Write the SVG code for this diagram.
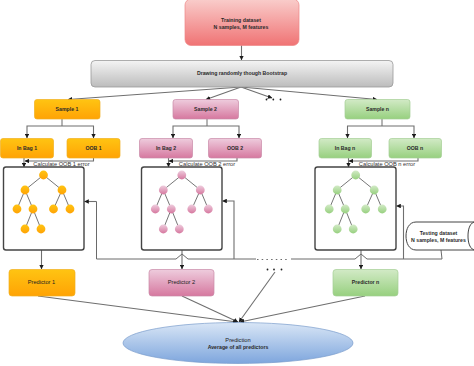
<svg xmlns="http://www.w3.org/2000/svg" xmlns:xlink="http://www.w3.org/1999/xlink" width="474" height="366" viewBox="0 0 474 366">
  <style>
    text { font-family: "Liberation Sans", Arial, sans-serif; font-size: 5.200px; font-weight: bold; fill: #2a2a2a; text-anchor: middle; }
    .note { font-weight: normal; font-size: 5.700px; fill: #333; }
    .plain { font-weight: normal; font-size: 5.700px; fill: #222; }
    .wire { fill: none; stroke: #6a6a6a; stroke-width: 1; }
    .heavy { fill: none; stroke: #6f6f6f; stroke-width: 1.100; marker-end: url(#tip); }
    .panel { fill: #fff; stroke: #444; stroke-width: 1.400; }
    .branch { stroke: #666; stroke-width: .9; fill: none; }
    .orange { fill: url(#gOrange); stroke: #f0b020; stroke-width: .7; }
    .pink { fill: url(#gPink); stroke: #c88aa8; stroke-width: .7; }
    .green { fill: url(#gGreen); stroke: #a5cf95; stroke-width: .7; }
  </style>
  <defs>
    <marker id="tip" viewBox="0 0 6 6" refX="5.600" refY="3" markerWidth="4.600" markerHeight="4.600" markerUnits="userSpaceOnUse" orient="auto"><path d="M0 0L6 3L0 6Z" fill="#1c1c1c"/></marker>
    <linearGradient id="gRed" x1="0" y1="0" x2="0" y2="1"><stop offset="0" stop-color="#f9cdcb"/><stop offset="1" stop-color="#f07374"/></linearGradient>
    <linearGradient id="gGrey" x1="0" y1="0" x2="0" y2="1"><stop offset="0" stop-color="#f4f4f4"/><stop offset="1" stop-color="#bcbcbc"/></linearGradient>
    <linearGradient id="gOrange" x1="0" y1="0" x2="0" y2="1"><stop offset="0" stop-color="#ffc412"/><stop offset="1" stop-color="#ffa305"/></linearGradient>
    <linearGradient id="gPink" x1="0" y1="0" x2="0" y2="1"><stop offset="0" stop-color="#eeccdd"/><stop offset="1" stop-color="#d6789f"/></linearGradient>
    <linearGradient id="gGreen" x1="0" y1="0" x2="0" y2="1"><stop offset="0" stop-color="#d2eac6"/><stop offset="1" stop-color="#97d07f"/></linearGradient>
    <linearGradient id="gBlue" x1="0" y1="0" x2="0" y2="1"><stop offset="0" stop-color="#d9e6f6"/><stop offset="1" stop-color="#7ea6dd"/></linearGradient>
    <!-- Decision tree drawn relative to the panel's left edge; circles take their fill from the use element -->
    <g id="tree">
      <path class="branch" d="M40 175L21.500 190M40 175L58.500 190M21.500 190L13.500 209M21.500 190L29.500 209M58.500 190L50 209M58.500 190L66.500 209M29.500 209L21.500 229M29.500 209L37.500 229"/>
      <circle cx="40" cy="175" r="4.400"/><circle cx="21.500" cy="190" r="4.400"/><circle cx="58.500" cy="190" r="4.400"/>
      <circle cx="13.500" cy="209" r="4.400"/><circle cx="29.500" cy="209" r="4.400"/><circle cx="50" cy="209" r="4.400"/><circle cx="66.500" cy="209" r="4.400"/>
      <circle cx="21.500" cy="229" r="4.400"/><circle cx="37.500" cy="229" r="4.400"/>
    </g>
  </defs>
  <rect width="474" height="366" fill="#fff"/>

  <g id="connectors">
    <path class="heavy" d="M241.500 45V60"/>
    <path class="heavy" d="M241 87L68 99.500"/>
    <path class="heavy" d="M241 87L206 99.500"/>
    <path class="heavy" d="M241 87L272 98"/>
    <path class="heavy" d="M241 87L377 99.500"/>

    <path class="wire" d="M62 119V126"/><path class="heavy" d="M62 126H27V138"/><path class="heavy" d="M62 126H93.500V138"/>
    <path class="wire" d="M207 119V126"/><path class="heavy" d="M207 126H173V138"/><path class="heavy" d="M207 126H239V138"/>
    <path class="wire" d="M382 119V126"/><path class="heavy" d="M382 126H347.500V138"/><path class="heavy" d="M382 126H414V138"/>

    <path class="heavy" d="M24 158V167"/><path class="heavy" d="M93.500 158V161H25"/>
    <path class="heavy" d="M168.500 158V167"/><path class="heavy" d="M237 158V161H169"/>
    <path class="heavy" d="M348.500 158V167"/><path class="heavy" d="M418 158V161H349"/>

    <path class="heavy" d="M41.500 250V269"/><path class="heavy" d="M182 250V269"/><path class="heavy" d="M361 250V269"/>

    <!-- Shared feed from the testing dataset, hopping over the predictor links -->
    <path class="wire" d="M441 250L442 259H367L361 254L355 259H291"/>
    <path class="wire" d="M256 259H234M234 259H188L182 254L176 259H96.500V201.500"/>
    <path class="wire" stroke-dasharray="1.500 3.200" d="M257 259.500H288"/>
    <path class="heavy" d="M96.500 201.500H84.500"/>
    <path class="heavy" d="M234 259V201H222.500"/>
    <path class="heavy" d="M403.500 259V206H396.500"/>

    <path class="heavy" d="M38 296L237 322"/>
    <path class="heavy" d="M182 296L238 322"/>
    <path class="heavy" d="M275 272L239 322"/>
    <path class="heavy" d="M365 296L240 322"/>
  </g>

  <g id="training"><rect x="185" y="-1" width="114" height="46.500" rx="6" fill="url(#gRed)" stroke="#e88" stroke-width=".7"/><text x="241" y="22">Training dataset</text><text x="241" y="28.500">N samples, M features</text></g>
  <g id="bootstrap"><rect x="91" y="60.500" width="302" height="26.500" rx="4" fill="url(#gGrey)" stroke="#999" stroke-width=".8"/><text x="242" y="75">Drawing randomly though Bootstrap</text></g>

  <g id="sample-1"><rect x="34.500" y="99.500" width="65.500" height="19.500" rx="2.500" class="orange"/><text x="67" y="111">Sample 1</text></g>
  <g id="sample-2"><rect x="173" y="99.500" width="65.500" height="19.500" rx="2.500" class="pink"/><text x="205.500" y="111">Sample 2</text></g>
  <g id="sample-n"><rect x="345" y="99.500" width="65" height="19.500" rx="2.500" class="green"/><text x="377.500" y="111">Sample n</text></g>

  <g id="inbag-1"><rect x="0.500" y="138.500" width="53" height="19.500" rx="2.500" class="orange"/><text x="27" y="149.500">In Bag 1</text></g>
  <g id="oob-1"><rect x="67" y="138.500" width="53" height="19.500" rx="2.500" class="orange"/><text x="93.500" y="149.500">OOB 1</text></g>
  <g id="inbag-2"><rect x="139.500" y="138.500" width="53" height="19.500" rx="2.500" class="pink"/><text x="166" y="149.500">In Bag 2</text></g>
  <g id="oob-2"><rect x="208.500" y="138.500" width="53" height="19.500" rx="2.500" class="pink"/><text x="235" y="149.500">OOB 2</text></g>
  <g id="inbag-n"><rect x="319" y="138.500" width="52.500" height="19.500" rx="2.500" class="green"/><text x="345" y="149.500">In Bag n</text></g>
  <g id="oob-n"><rect x="389" y="138.500" width="52.500" height="19.500" rx="2.500" class="green"/><text x="415" y="149.500">OOB n</text></g>

  <g id="oob-labels">
    <text class="note" x="61.500" y="165.500">Calculate OOB 1 error</text>
    <text class="note" x="207" y="165.500">Calculate OOB 2 error</text>
    <text class="note" x="387" y="165.500">Calculate OOB n error</text>
  </g>

  <g id="forest-1"><rect class="panel" x="3.500" y="167" width="80.500" height="83" rx="2.500"/><use xlink:href="#tree" href="#tree" x="3.500" fill="url(#gOrange)"/></g>
  <g id="forest-2"><rect class="panel" x="141.500" y="167" width="80.500" height="83" rx="2.500"/><use xlink:href="#tree" href="#tree" x="141.800" fill="url(#gPink)"/></g>
  <g id="forest-n"><rect class="panel" x="315" y="167" width="81" height="83" rx="2.500"/><use xlink:href="#tree" href="#tree" x="315.700" fill="url(#gGreen)"/></g>

  <g id="testing">
    <path d="M474 222H416C409 222 406 229 406 236C406 243 409 250 416 250H474" fill="#fff" stroke="#444" stroke-width="1"/>
    <path d="M474 222C469 224 468 231 468 236C468 241 469 248 474 250" fill="none" stroke="#444" stroke-width="1"/>
    <text x="438.500" y="235">Testing dataset</text><text x="438.500" y="241.500">N samples, M features</text>
  </g>

  <g id="predictor-1"><rect x="9" y="269.500" width="66" height="26.500" rx="3" class="orange"/><text class="plain" x="41.500" y="284">Predictor 1</text></g>
  <g id="predictor-2"><rect x="149" y="269.500" width="65" height="26.500" rx="3" class="pink"/><text class="plain" x="181.500" y="284">Predictor 2</text></g>
  <g id="predictor-n"><rect x="333" y="269.500" width="65" height="26.500" rx="3" class="green"/><text x="365.500" y="284">Predictor n</text></g>

  <g id="prediction"><ellipse cx="238" cy="343" rx="115" ry="20.500" fill="url(#gBlue)" stroke="#7a9ccb" stroke-width=".7"/><text class="plain" x="238" y="342">Prediction</text><text x="238" y="349">Average of all predictors</text></g>

  <g id="ellipsis-marks" fill="#222">
    <circle cx="266.500" cy="99.500" r=".9"/><circle cx="273.300" cy="99.500" r=".9"/><circle cx="280.500" cy="99.500" r=".9"/>
    <circle cx="267.500" cy="269.500" r=".9"/><circle cx="274" cy="269.500" r=".9"/><circle cx="281.500" cy="269.500" r=".9"/>
  </g>
</svg>
